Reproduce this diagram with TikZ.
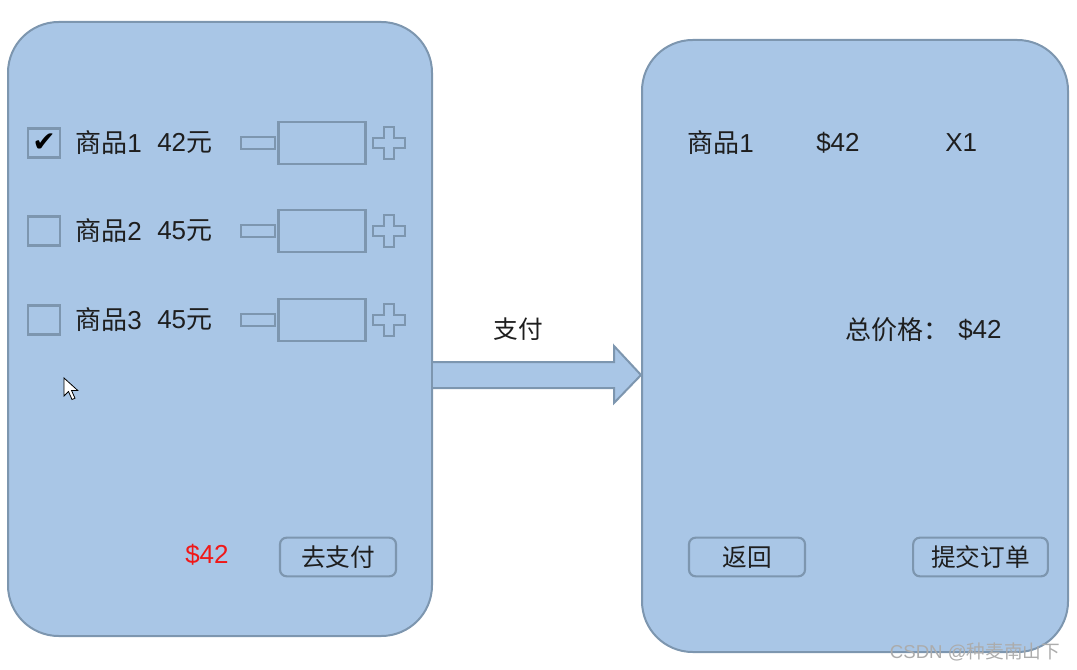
\documentclass[tikz,border=0pt]{standalone}
\usepackage{fontspec}
\setmainfont{Liberation Sans}
\newfontfamily\cjk{Noto Sans CJK SC}
\newfontfamily\symb{DejaVu Sans}
\usetikzlibrary{calc}
\definecolor{panelblue}{HTML}{A9C6E6}
\definecolor{edgegray}{HTML}{7D96AF}
\definecolor{pricered}{HTML}{F01818}
\definecolor{ink}{HTML}{1E1E1E}
\newcommand{\zh}[1]{{\cjk #1}}
\tikzset{
  panel/.style={draw=edgegray,line width=1.5pt,fill=panelblue,rounded corners=38pt,inner sep=0pt},
  widget/.style={draw=edgegray,line width=1.9pt,fill=panelblue},
  btn/.style={draw=edgegray,line width=1.6pt,rounded corners=5pt,minimum height=29pt,inner sep=0pt,text=ink,font=\fontsize{18.5}{20}\selectfont},
  txt/.style={anchor=west,inner sep=0pt,text=ink,font=\fontsize{19.5}{20}\selectfont}
}
\begin{document}
\begin{tikzpicture}[x=0.75pt,y=-0.75pt]
\useasboundingbox (0,0) rectangle (1077,670);
% the two screens
\node[panel,minimum width=318pt,minimum height=460.5pt] (cart) at (220,329) {};
\node[panel,minimum width=319.5pt,minimum height=459pt] (order) at (855,346) {};
% cart rows
\foreach \r/\y/\p in {1/143/42, 2/231/45, 3/320/45} {
  \node[widget,minimum width=24pt,minimum height=22pt,inner sep=0pt] (chk\r) at (44,\y) {};
  \node[txt] (item\r) at (75,\y) {\zh{商品}\r};
  \node[txt] (price\r) at (157,\y) {\p\zh{元}};
  \node[widget,minimum width=25.5pt,minimum height=9pt,inner sep=0pt] (minus\r) at (258,\y) {};
  \node[widget,minimum width=65pt,minimum height=31.5pt,inner sep=0pt] (qty\r) at (322,\y) {};
  \draw[widget] (389,\y) ++(-5,-16) -- ++(10,0) -- ++(0,11) -- ++(11,0) -- ++(0,10)
    -- ++(-11,0) -- ++(0,11) -- ++(-10,0) -- ++(0,-11) -- ++(-11,0) -- ++(0,-10)
    -- ++(11,0) -- cycle;
}
\node[inner sep=0pt,text=black,font=\symb\fontsize{21}{22}\selectfont] at (chk1) {✔};
% mouse pointer
\draw[fill=white,line width=0.6pt,line join=miter] (64,378) -- ++(0,18) -- ++(4.5,-4.5)
  -- ++(3.5,8) -- ++(3,-1.3) -- ++(-3.5,-7.8) -- ++(6.2,0) -- cycle;
\node[txt,text=pricered] (total) at (185,555) {\$42};
\node[btn,minimum width=87pt] (pay) at (338,557) {\zh{去支付}};
% arrow between screens
\coordinate (a1) at ($(cart.east)+(0,33)$);
\coordinate (a2) at ($(cart.east)+(0,59)$);
\fill[panelblue] (a1) -- (a1 -| 614,0) -- (614,346) -- (order.west |- 0,375)
  -- (614,403) -- (a2 -| 614,0) -- (a2) -- cycle;
\draw[edgegray,line width=1.5pt,line join=miter] (a1) -- (a1 -| 614,0) -- (614,346)
  -- (order.west |- 0,375) -- (614,403) -- (a2 -| 614,0) -- (a2);
\node[text=ink,font=\cjk\fontsize{18.5}{20}\selectfont] (paylbl) at (518,329) {支付};
% order screen
\node[txt] (oitem) at (687,143) {\zh{商品}1};
\node[txt] (oprice) at (816,143) {\$42};
\node[txt] (ocount) at (945,143) {X1};
\node[txt] (osum) at (845,330) {\zh{总价格：}};
\node[txt] (osumval) at (958,330) {\$42};
\node[btn,minimum width=87pt] (back) at (747,557) {\zh{返回}};
\node[btn,minimum width=101pt] (submit) at (980.5,557) {\zh{提交订单}};
\node[text=gray!65,font=\fontsize{14}{16}\selectfont] (mark) at (975,652) {CSDN @\zh{种麦南山下}};
\end{tikzpicture}
\end{document}
